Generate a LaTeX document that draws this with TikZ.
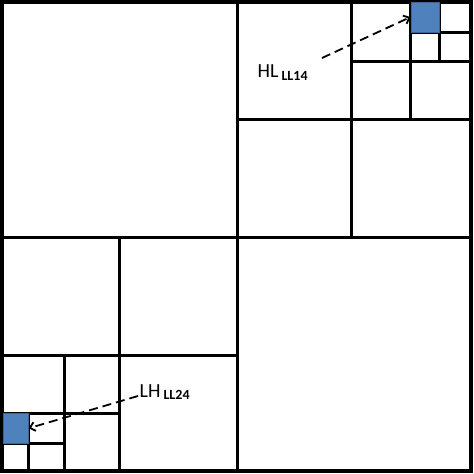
\documentclass[tikz,border=0pt]{standalone}
\usepackage{fontspec}
\setmainfont{Carlito}
\usetikzlibrary{arrows.meta}
\definecolor{tileblue}{RGB}{79,129,189}
\definecolor{tileedge}{RGB}{62,100,150}
\begin{document}
\begin{tikzpicture}[x=1pt,y=-1pt,
 frame/.style={line width=3.6pt},
 part/.style={line width=3pt},
 pick/.style={fill=tileblue,draw=tileedge,line width=0.6pt,inner sep=0pt,anchor=north west},
 band/.style={inner sep=0pt,anchor=base west},
 pointer/.style={line width=1.8pt,dash pattern=on 9pt off 5pt,-{Straight Barb[length=5pt,width=9pt]}}]
 \useasboundingbox (0,0) rectangle (474,474);
 \draw[part](237,2)--(237,471);
 \draw[part](2,237)--(471,237);
 \draw[part](351,2)--(351,237);
 \draw[part](237,119)--(471,119);
 \draw[part](410,2)--(410,119);
 \draw[part](351,61)--(471,61);
 \draw[part](439,2)--(439,61);
 \draw[part](410,32)--(471,32);
 \draw[part](119,237)--(119,471);
 \draw[part](2,355)--(237,355);
 \draw[part](64,355)--(64,471);
 \draw[part](2,413)--(119,413);
 \draw[part](28,413)--(28,471);
 \draw[part](2,443)--(64,443);
 \draw[frame](2,2) rectangle (471,471);
 \node[pick,minimum width=28.5pt,minimum height=30.5pt] (hlcell) at (410.5,1.5) {};
 \node[pick,minimum width=25pt,minimum height=30pt] (lhcell) at (3,413) {};
 \node[band] (hllabel) at (257.5,77) {\fontsize{20}{24}\selectfont HL\hspace{3pt}\raisebox{-3.5pt}{\fontsize{14}{16}\selectfont\bfseries LL14}};
 \node[band] (lhlabel) at (139.5,397) {\fontsize{20}{24}\selectfont LH\hspace{3pt}\raisebox{-2.5pt}{\fontsize{14}{16}\selectfont\bfseries LL24}};
 \coordinate (hlfrom) at (322,58);
 \coordinate (lhfrom) at (138,396);
 \draw[pointer](hlfrom)--(hlcell.west);
 \draw[pointer](lhfrom)--(lhcell.east);
\end{tikzpicture}
\end{document}
